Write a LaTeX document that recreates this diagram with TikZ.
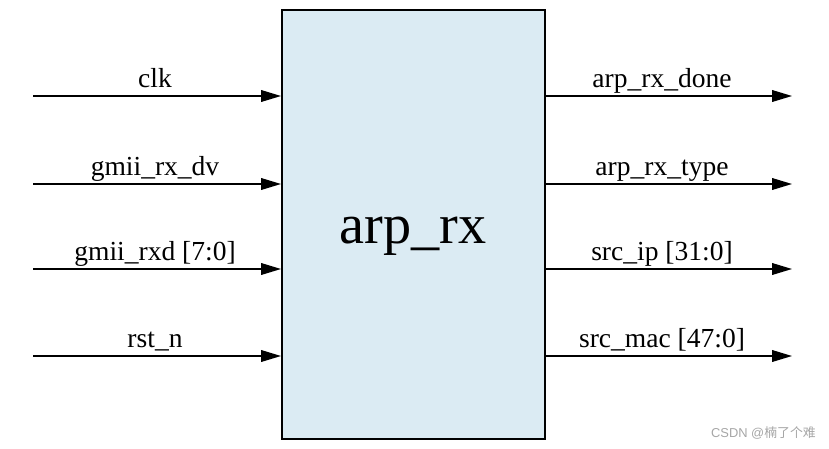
\documentclass[tikz,border=0pt]{standalone}
\usepackage{fontspec}
\setmainfont{Liberation Serif}
\newfontfamily\cjk{Noto Sans CJK SC}
\newfontfamily\wmfont{Liberation Sans}
\usetikzlibrary{arrows.meta}
\definecolor{boxfill}{HTML}{DBEBF3}
\begin{document}
\begin{tikzpicture}[x=0.03cm,y=-0.03cm,
  sig/.style={line width=1.1pt,-{Triangle[length=17pt,width=10pt]}},
  lab/.style={font=\fontsize{23.5}{26}\selectfont,anchor=base,inner sep=0}]
\useasboundingbox (0,0) rectangle (829,449);
\node[draw,line width=2pt,fill=boxfill,minimum width=263*0.03cm,minimum height=429*0.03cm,anchor=north west,inner sep=0] (box) at (281,9) {};
\node[font=\fontsize{48}{52}\selectfont] (t) at (413,236) {arp\_rx};
\foreach \y/\n/\t in {96/i1/clk,184/i2/gmii\_rx\_dv,269/i3/gmii\_rxd [7:0],356/i4/rst\_n}{
  \coordinate (\n) at (33,\y);
  \draw[sig] (\n) -- (box.west |- \n);
  \node[lab] (l\n) at (155,\y-9) {\t};
}
\foreach \y/\n/\t in {96/o1/arp\_rx\_done,184/o2/arp\_rx\_type,269/o3/src\_ip [31:0],356/o4/src\_mac [47:0]}{
  \coordinate (\n) at (792,\y);
  \draw[sig] (box.east |- \n) -- (\n);
  \node[lab] (l\n) at (662,\y-9) {\t};
}
\node[font=\wmfont\fontsize{11}{13}\selectfont,text=gray!70,anchor=east] (wm) at (820,433) {CSDN @{\cjk 楠了个难}};
\end{tikzpicture}
\end{document}
